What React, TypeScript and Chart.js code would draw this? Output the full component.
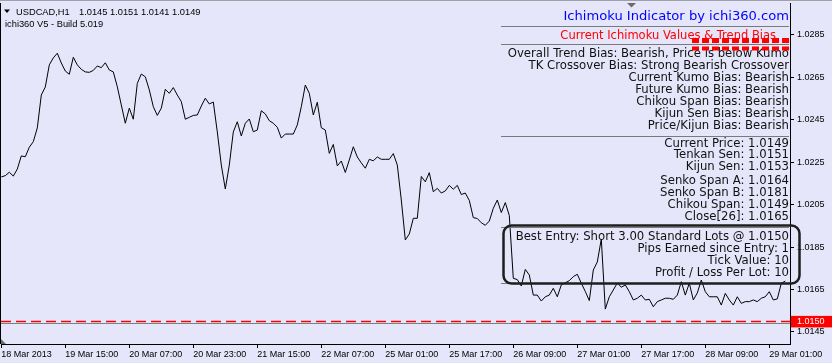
import React, { useEffect, useRef } from "react";
import { Chart, registerables } from "chart.js";
Chart.register(...registerables);

// ---- DATA ----
const closes = [
  1.02181, 1.02187, 1.02203, 1.02185, 1.02218, 1.0228, 1.02276, 1.02321, 1.02347, 1.02412,
  1.02567, 1.02605, 1.02709, 1.02742, 1.02764, 1.02718, 1.0268, 1.02665, 1.02745, 1.02709,
  1.02688, 1.02676, 1.02674, 1.02683, 1.02704, 1.02696, 1.02719, 1.02685, 1.02676, 1.02606,
  1.0252, 1.02434, 1.02505, 1.02453, 1.02622, 1.02666, 1.02653, 1.02591, 1.02512, 1.02471,
  1.02505, 1.02594, 1.02575, 1.02602, 1.02567, 1.02536, 1.02453, 1.02462, 1.02471, 1.02473,
  1.02515, 1.02552, 1.02525, 1.02534, 1.02393, 1.02237, 1.02124, 1.02237, 1.02393, 1.02441,
  1.02374, 1.02434, 1.02454, 1.02394, 1.02402, 1.02493, 1.02478, 1.02446, 1.02434, 1.02415,
  1.02364, 1.02383, 1.02383, 1.02383, 1.02426, 1.02512, 1.02614, 1.02575, 1.02473, 1.02533,
  1.02413, 1.02402, 1.02292, 1.02334, 1.02233, 1.02256, 1.02202, 1.02261, 1.02323, 1.02275,
  1.02247, 1.02222, 1.02264, 1.02257, 1.02275, 1.02264, 1.02264, 1.02264, 1.02291, 1.02237,
  1.02072, 1.01884, 1.01912, 1.01986, 1.01986, 1.02183, 1.02158, 1.02201, 1.02111, 1.02127,
  1.02105, 1.02115, 1.02141, 1.02123, 1.02141, 1.02098, 1.02105, 1.0207, 1.01989, 1.01985,
  1.01965, 1.01953, 1.01973, 1.02033, 1.02072, 1.02013, 1.0206, 1.01999, 1.01703, 1.01697,
  1.01667, 1.01745, 1.01719, 1.01624, 1.01624, 1.01596, 1.01616, 1.01624, 1.01656, 1.01616,
  1.01672, 1.01682, 1.01692, 1.01711, 1.01722, 1.0168, 1.01641, 1.01598, 1.01742, 1.0178,
  1.01888, 1.01558, 1.01616, 1.01648, 1.01681, 1.01661, 1.01672, 1.0164, 1.01601, 1.01609,
  1.01624, 1.01601, 1.01604, 1.01569, 1.01593, 1.01601, 1.01609, 1.01609, 1.01604, 1.01624,
  1.01687, 1.01624, 1.0168, 1.01601, 1.01634, 1.01695, 1.0164, 1.01616, 1.01616, 1.01616,
  1.01577, 1.01632, 1.01601, 1.01577, 1.01616, 1.01585, 1.01593, 1.01593, 1.01601, 1.01593,
  1.01609, 1.01616, 1.0164, 1.01601, 1.01606, 1.0168, 1.0169,
];
const xTickIndex = [0, 16, 32, 48, 64, 80, 96, 112, 128, 144, 160, 176, 192];
const xTickLabels = [
  "18 Mar 2013", "19 Mar 15:00", "20 Mar 07:00", "20 Mar 23:00", "21 Mar 15:00",
  "22 Mar 07:00", "25 Mar 01:00", "25 Mar 17:00", "26 Mar 09:00", "27 Mar 01:00",
  "27 Mar 17:00", "28 Mar 09:00", "29 Mar 01:00",
];
const yTicks = [1.0145, 1.0165, 1.0185, 1.0205, 1.0225, 1.0245, 1.0265, 1.0285];
const yMin = 1.013934;
const yMax = 1.030008;
const entryPrice = 1.015;
const bidPrice = 1.0149;

const headerSymbol = "USDCAD,H1";
const headerPrices = "1.0145 1.0151 1.0141 1.0149";
const headerBuild = "ichi360 V5 - Build 5.019";
const panelTitle = "Ichimoku Indicator by ichi360.com";
const panelSubtitle = "Current Ichimoku Values & Trend Bias";
const biasLines = [
  "Overall Trend Bias: Bearish, Price is below Kumo",
  "TK Crossover Bias: Strong Bearish Crossover",
  "Current Kumo Bias: Bearish",
  "Future Kumo Bias: Bearish",
  "Chikou Span Bias: Bearish",
  "Kijun Sen Bias: Bearish",
  "Price/Kijun Bias: Bearish",
];
const valueLinesA = ["Current Price: 1.0149", "Tenkan Sen: 1.0151", "Kijun Sen: 1.0153"];
const valueLinesB = [
  "Senko Span A: 1.0164",
  "Senko Span B: 1.0181",
  "Chikou Span: 1.0149",
  "Close[26]: 1.0165",
];
const entryLines = [
  "Best Entry: Short 3.00 Standard Lots @ 1.0150",
  "Pips Earned since Entry: 1",
  "Tick Value: 10",
  "Profit / Loss Per Lot: 10",
];

const BG = "#E6E6FA";
const AXIS_FONT = "Liberation Sans";
const PANEL_FONT = "DejaVu Sans";

const decor = {
  id: "decor",
  beforeDraw(chart: any) {
    const ctx = chart.ctx;
    ctx.save();
    ctx.fillStyle = BG;
    ctx.fillRect(0, 0, chart.width, chart.height);
    ctx.fillStyle = "#a0a0a8";
    ctx.fillRect(0, 0, chart.width, 1);
    ctx.restore();
  },
  afterDatasetsDraw(chart: any) {
    const ctx = chart.ctx;
    const ca = chart.chartArea;
    const rx = ca.right - 1;
    ctx.save();
    // separators
    ctx.strokeStyle = "#7a7a7a";
    ctx.lineWidth = 1;
    const sep = (y: number) => {
      ctx.beginPath();
      ctx.moveTo(501, y + 0.5);
      ctx.lineTo(rx, y + 0.5);
      ctx.stroke();
    };
    [26, 44, 136, 227, 283].forEach(sep);

    ctx.textAlign = "right";
    ctx.textBaseline = "middle";
    ctx.fillStyle = "#0000FF";
    ctx.font = `13.1px "${PANEL_FONT}"`;
    ctx.fillText(panelTitle, rx, 17);
    ctx.fillStyle = "#FF0000";
    ctx.font = `11.5px "${PANEL_FONT}"`;
    ctx.fillText(panelSubtitle, 776, 36);

    ctx.fillStyle = "#111";
    ctx.font = `11.7px "${PANEL_FONT}"`;
    biasLines.forEach((t, i) => ctx.fillText(t, rx, 53.5 + i * 12));
    valueLinesA.forEach((t, i) => ctx.fillText(t, rx, 143.5 + i * 11.7));
    valueLinesB.forEach((t, i) => ctx.fillText(t, rx, 181 + i * 11.9));
    entryLines.forEach((t, i) => ctx.fillText(t, rx, 237 + i * 12));

    // red marker blocks
    ctx.fillStyle = "#FF0000";
    for (let k = 0; k < 10; k++) {
      ctx.fillRect(692 + k * 10, 38, 7, 5);
      ctx.fillRect(692 + k * 10, 46.5, 7, 4);
    }

    // entry box
    ctx.strokeStyle = "#1e1e1e";
    ctx.lineWidth = 2.5;
    ctx.beginPath();
    (ctx as any).roundRect(503.5, 225.5, 296, 58, 8);
    ctx.stroke();
    ctx.restore();
  },
  afterDraw(chart: any) {
    const ctx = chart.ctx;
    const ca = chart.chartArea;
    const ys = chart.scales.y;
    ctx.save();
    // left border
    ctx.fillStyle = "#000";
    ctx.fillRect(0, ca.top, 1, ca.bottom - ca.top);
    // top triangle marker
    ctx.fillStyle = "#6b6b6b";
    ctx.beginPath();
    ctx.moveTo(627, 3);
    ctx.lineTo(636, 3);
    ctx.lineTo(631.5, 7.5);
    ctx.closePath();
    ctx.fill();
    // bottom-left marker
    ctx.beginPath();
    ctx.moveTo(1, 339);
    ctx.lineTo(1, 344);
    ctx.lineTo(6, 344);
    ctx.closePath();
    ctx.fill();

    // header
    ctx.fillStyle = "#000";
    ctx.beginPath();
    ctx.moveTo(4, 9.5);
    ctx.lineTo(10, 9.5);
    ctx.lineTo(7, 13);
    ctx.closePath();
    ctx.fill();
    ctx.font = `9.3px "${AXIS_FONT}"`;
    ctx.textAlign = "left";
    ctx.textBaseline = "middle";
    ctx.fillText(headerSymbol, 16, 12);
    ctx.fillText(headerPrices, 79, 12);
    ctx.fillText(headerBuild, 5, 24.5);

    // price labels on axis
    const yb = ys.getPixelForValue(bidPrice);
    ctx.fillStyle = "#000";
    ctx.fillRect(ca.right + 3, yb + 1.5, 832 - ca.right - 3, 2);
    const ye = ys.getPixelForValue(entryPrice);
    ctx.fillStyle = "#FF0000";
    ctx.fillRect(ca.right + 1, ye - 5.5, 832 - ca.right - 1, 11.5);
    ctx.fillStyle = "#FFFFFF";
    ctx.font = `9px "${AXIS_FONT}"`;
    ctx.fillText(entryPrice.toFixed(4), ca.right + 7, ye + 0.5);
    ctx.restore();
  },
};

export default function App() {
  const ref = useRef<HTMLCanvasElement>(null);
  useEffect(() => {
    if (!ref.current) return;
    const xMin = -0.075;
    const xMax = closes.length + 0.175;
    const chart = new Chart(ref.current, {
      type: "line",
      data: {
        datasets: [
          {
            label: "price",
            data: closes.map((v, i) => ({ x: i, y: v })),
            borderColor: "#000",
            borderWidth: 1,
            pointRadius: 0,
            tension: 0,
            order: 1,
          },
          {
            label: "entry",
            data: [
              { x: xMin, y: entryPrice },
              { x: xMax, y: entryPrice },
            ],
            borderColor: "#FF0000",
            borderWidth: 1.5,
            borderDash: [10, 5],
            pointRadius: 0,
            order: 2,
          },
          {
            label: "bid",
            data: [
              { x: xMin, y: bidPrice },
              { x: xMax, y: bidPrice },
            ],
            borderColor: "#808080",
            borderWidth: 1,
            pointRadius: 0,
            order: 3,
          },
        ],
      },
      options: {
        responsive: false,
        animation: false,
        devicePixelRatio: 1,
        layout: { padding: { left: 1, top: 3, right: 0, bottom: 0 } },
        plugins: { legend: { display: false }, tooltip: { enabled: false } },
        scales: {
          x: {
            type: "linear",
            position: "bottom",
            min: xMin,
            max: xMax,
            afterBuildTicks: (s: any) => {
              s.ticks = xTickIndex.map((v) => ({ value: v }));
            },
            afterFit: (s: any) => {
              s.height = 19;
              s.paddingLeft = 0;
              s.paddingRight = 0;
            },
            ticks: {
              autoSkip: false,
              maxRotation: 0,
              minRotation: 0,
              align: "start",
              padding: 1,
              color: "#000",
              font: { family: AXIS_FONT, size: 9 },
              callback: (_v: any, i: number) => xTickLabels[i],
            },
            grid: {
              drawOnChartArea: false,
              drawTicks: true,
              tickLength: 4,
              color: "#000",
            },
            border: { display: true, color: "#000", width: 1 },
          },
          y: {
            type: "linear",
            position: "right",
            min: yMin,
            max: yMax,
            afterBuildTicks: (s: any) => {
              s.ticks = yTicks.map((v) => ({ value: v }));
            },
            afterFit: (s: any) => {
              s.width = 42;
              s.paddingTop = 0;
              s.paddingBottom = 0;
            },
            ticks: {
              padding: 3,
              color: "#000",
              font: { family: AXIS_FONT, size: 9 },
              callback: (v: any) => Number(v).toFixed(4),
            },
            grid: {
              drawOnChartArea: false,
              drawTicks: true,
              tickLength: 4,
              color: "#000",
            },
            border: { display: true, color: "#000", width: 1 },
          },
        },
      },
      plugins: [decor],
    } as any);
    return () => chart.destroy();
  }, []);
  return (
    <div style={{ position: "fixed", left: 0, top: 0, width: 832, height: 363, background: BG }}>
      <canvas ref={ref} width={832} height={363} style={{ display: "block" }} />
    </div>
  );
}
